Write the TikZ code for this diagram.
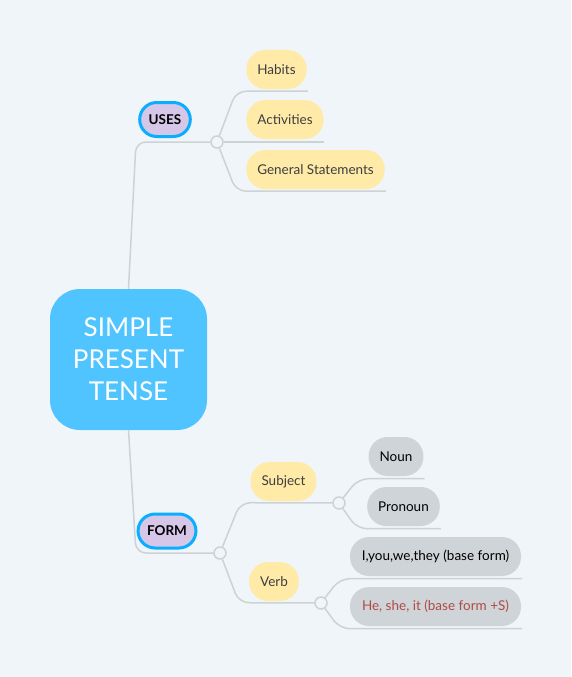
\documentclass[tikz,border=0pt]{standalone}
\usepackage{fontspec}
\setmainfont{Lato}
\usetikzlibrary{calc}
\definecolor{bgpaper}{HTML}{F0F5F9}
\definecolor{rootblue}{HTML}{50C4FE}
\definecolor{topicfill}{HTML}{D6C6E8}
\definecolor{topicedge}{HTML}{0AAEFF}
\definecolor{leafyellow}{HTML}{FFEAA8}
\definecolor{leafgrey}{HTML}{CFD4D8}
\definecolor{linegrey}{HTML}{CDD2D5}
\definecolor{textdark}{HTML}{3E3E3E}
\definecolor{textred}{HTML}{B04A42}
\tikzset{
  root/.style={fill=rootblue, rounded corners=30pt, minimum width=157pt,
    minimum height=141pt, align=center, text=white,
    font=\fontsize{26}{32}\selectfont},
  topic/.style={fill=topicfill, draw=topicedge, line width=3pt,
    rounded corners=17pt, minimum height=34pt, inner xsep=9pt,
    font=\bfseries\fontsize{13.5}{15}\selectfont},
  leaf/.style={fill=leafyellow, rounded corners=19pt, minimum height=39pt,
    inner xsep=11pt, text=textdark, font=\fontsize{13.5}{15}\selectfont},
  subleaf/.style={leaf, fill=leafgrey, text=black},
  knot/.style={circle, draw=linegrey, line width=1.5pt, fill=bgpaper,
    minimum size=12pt, inner sep=0pt},
  branch/.style={draw=linegrey, line width=1.5pt, rounded corners=10pt}
}
\begin{document}
\begin{tikzpicture}[x=1pt,y=-1pt]
  \useasboundingbox[fill=bgpaper] (0,0) rectangle (571,677);
  \node[root] (root) at (128.5,359.5) {SIMPLE\\PRESENT\\TENSE};
  \node[topic] (uses) at (165,119.5) {USES};
  \node[topic] (form) at (167,531) {FORM};
  \node[knot] (cu) at (217,142) {};
  \node[knot] (cf) at (220,553) {};
  \node[leaf] (habits) at (276.5,69.5) {Habits};
  \node[leaf] (activities) at (285,119.5) {Activities};
  \node[leaf] (general) at (315.5,169.5) {General Statements};
  \node[leaf] (subject) at (283.5,481.5) {Subject};
  \node[leaf] (verb) at (274,581.5) {Verb};
  \node[knot] (cs) at (339,503) {};
  \node[knot] (cv) at (321,603) {};
  \node[subleaf] (noun) at (396,456.5) {Noun};
  \node[subleaf] (pronoun) at (403.5,506.5) {Pronoun};
  \node[subleaf, minimum width=171pt] (base) at (435.5,556.5) {I,you,we,they (base form)};
  \node[subleaf, minimum width=171pt, text=textred] (third) at (435.5,606.5) {He, she, it (base form +S)};
  \coordinate (ku) at (136,142);
  \coordinate (kf) at (136,553);
  \begin{scope}[branch]
    \draw (root.north) -- (ku) -- (cu);
    \draw (root.south) -- (kf) -- (cf);
    \draw (cu) -- ($(habits.south west)+(-10,2)$) -- ($(habits.south east)+(1,2)$);
    \draw (cu) -- (activities.south east |- cu);
    \draw (cu) -- ($(general.south west)+(-10,2)$) -- ($(general.south east)+(1,2)$);
    \draw (cf) -- ($(subject.south west)+(-10,1.5)$) -- (cs);
    \draw (cf) -- ($(verb.south west)+(-10,1.5)$) -- (cv);
    \draw (cs) -- ($(noun.south west)+(-10,2.5)$) -- ($(noun.south east)+(1,2.5)$);
    \draw (cs) -- ($(pronoun.south west)+(-10,2.5)$) -- ($(pronoun.south east)+(1,2.5)$);
    \draw (cv) -- ($(base.south west)+(-10,2.5)$) -- ($(base.south east)+(1,2.5)$);
    \draw (cv) -- ($(third.south west)+(-10,2.5)$) -- ($(third.south east)+(1,2.5)$);
  \end{scope}
\end{tikzpicture}
\end{document}
